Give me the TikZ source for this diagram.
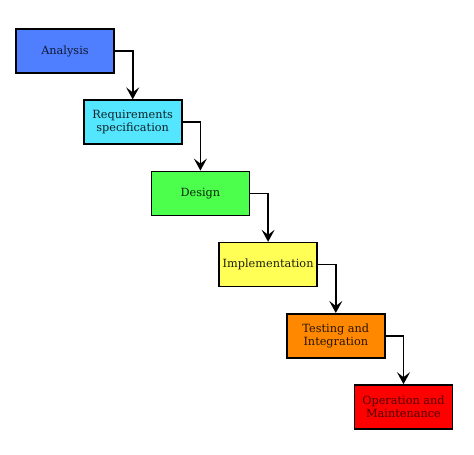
\documentclass[tikz,border=0pt]{standalone}
\usepackage{fontspec}
\setmainfont{DejaVu Serif}
\usetikzlibrary{arrows.meta}
\definecolor{cA}{HTML}{4F7FFF}
\definecolor{cR}{HTML}{55E6FF}
\definecolor{cD}{HTML}{4CFF4C}
\definecolor{cI}{HTML}{FFFF55}
\definecolor{cT}{HTML}{FF8800}
\definecolor{cO}{HTML}{FF0000}
\begin{document}
\begin{tikzpicture}[x=1pt,y=1pt,
  stepbox/.style={draw=black, line width=1.6pt, minimum width=98pt, minimum height=44pt,
    inner sep=0pt, align=center, font=\fontsize{11.3}{13.5}\selectfont},
  flow/.style={draw=black, line width=1.6pt, -{Stealth[length=12pt,width=13pt,inset=5pt]}}]
\useasboundingbox (0,0) rectangle (474,455);
\node[stepbox, fill=cA, text=cA!20!black] (a) at (65,404) {Analysis};
\node[stepbox, fill=cR, text=cR!15!black] (r) at (132.7,332.8) {Requirements\\specification};
\node[stepbox, fill=cD, text=cD!15!black] (d) at (200.4,261.6) {Design};
\node[stepbox, fill=cI, text=cI!12!black] (i) at (268.1,190.4) {Implementation};
\node[stepbox, fill=cT, text=cT!15!black] (t) at (335.8,119.2) {Testing and\\Integration};
\node[stepbox, fill=cO, text=cO!30!black] (o) at (403.5,48) {Operation and\\Maintenance};
\draw[flow] (a.east) -| (r.north);
\draw[flow] (r.east) -| (d.north);
\draw[flow] (d.east) -| (i.north);
\draw[flow] (i.east) -| (t.north);
\draw[flow] (t.east) -| (o.north);
\end{tikzpicture}
\end{document}
